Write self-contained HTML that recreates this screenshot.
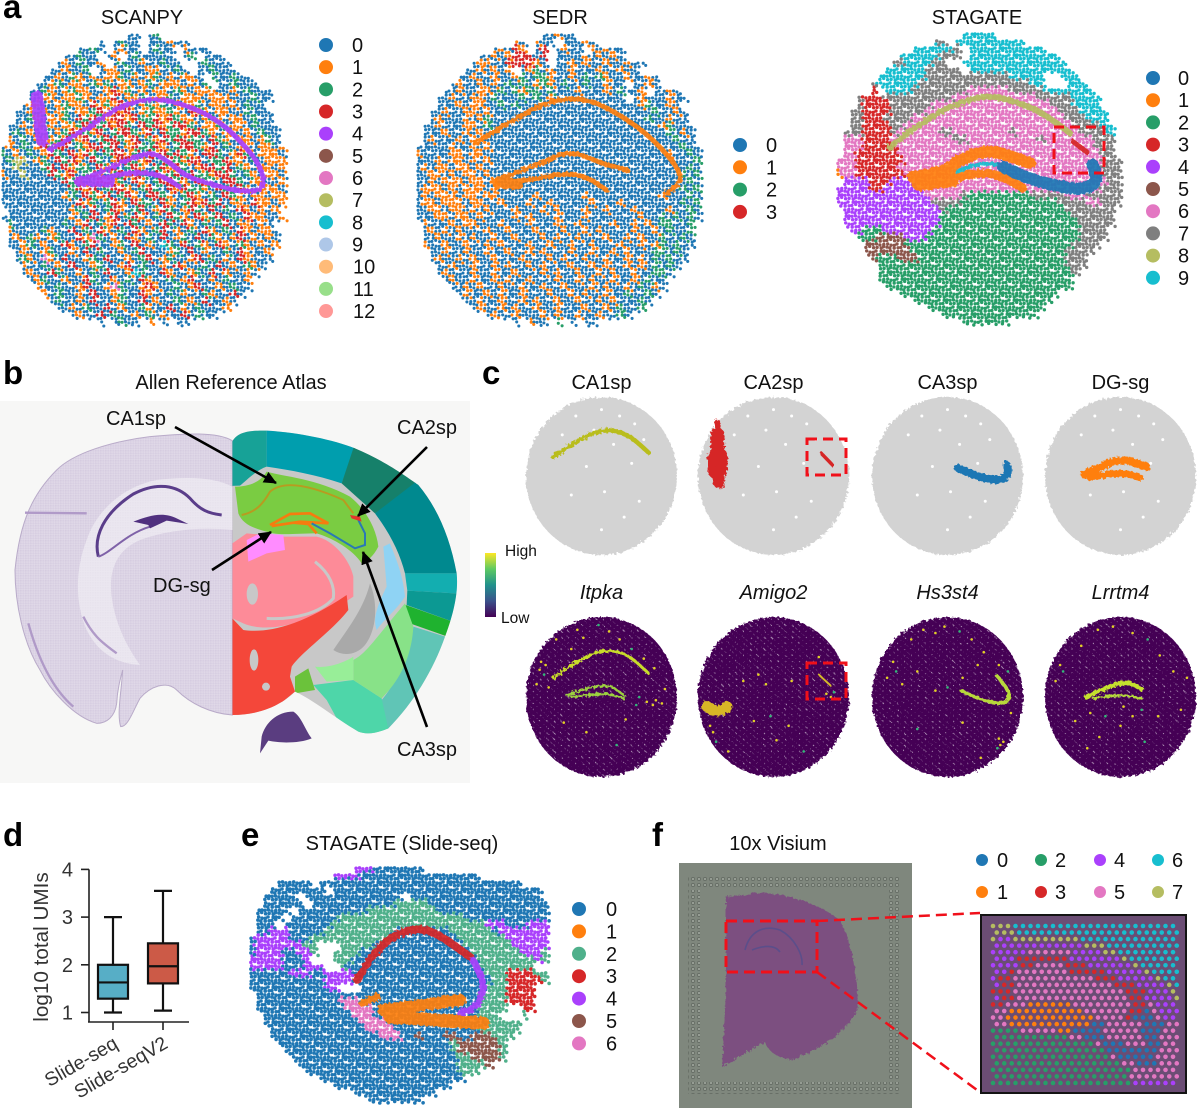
<!DOCTYPE html>
<html lang="en">
<head>
<meta charset="utf-8">
<title>Spatial clustering comparison figure</title>
<style>
html,body{margin:0;padding:0;background:#fff}
svg{display:block}
text{font-family:"Liberation Sans",Arial,sans-serif;fill:#111}
.letter{font-weight:700;font-size:33px;fill:#000}
.title{font-size:19.5px;text-anchor:middle}
.ttl{font-size:20px}
</style>
</head>
<body>
<svg id="fig" width="1200" height="1108" viewBox="0 0 1200 1108" xmlns="http://www.w3.org/2000/svg">
<defs>
<linearGradient id="viridis" x1="0" y1="0" x2="0" y2="1">
<stop offset="0" stop-color="#fde725"/><stop offset=".25" stop-color="#5ec962"/><stop offset=".5" stop-color="#21918c"/><stop offset=".75" stop-color="#3b528b"/><stop offset="1" stop-color="#440154"/>
</linearGradient>
<pattern id="flecks" width="7" height="6" patternUnits="userSpaceOnUse">
<rect width="7" height="6" fill="#440154"/>
<circle cx="1.5" cy="1.5" r=".7" fill="#fff" opacity=".5"/>
<circle cx="5" cy="4.4" r=".45" fill="#fff" opacity=".35"/>
</pattern>
<pattern id="nissl" width="5" height="5" patternUnits="userSpaceOnUse">
<rect width="5" height="5" fill="#dcd4e5"/>
<circle cx="1" cy="1" r=".8" fill="#a792c0" opacity=".6"/>
<circle cx="3.6" cy="3.2" r=".8" fill="#f2eff5"/>
</pattern>
<pattern id="nisslLight" width="5" height="5" patternUnits="userSpaceOnUse">
<rect width="5" height="5" fill="#ebe7f0"/>
<circle cx="1.4" cy="2" r=".6" fill="#b5a6c9" opacity=".7"/>
</pattern>
<pattern id="fiducial" width="6" height="6" patternUnits="userSpaceOnUse">
<rect width="6" height="6" fill="#7f877d"/>
<circle cx="3" cy="3" r="1.6" fill="#969d94" stroke="#5f665e" stroke-width=".7"/>
</pattern>
<marker id="arrowhead" markerUnits="userSpaceOnUse" markerWidth="14" markerHeight="12" refX="12" refY="6" orient="auto">
<polygon points="0,0 13,6 0,12" fill="#000"/>
</marker>
<filter id="rough" filterUnits="userSpaceOnUse" x="0" y="0" width="1200" height="1108">
<feTurbulence type="fractalNoise" baseFrequency=".35" numOctaves="2" seed="4" result="n"/>
<feDisplacementMap in="SourceGraphic" in2="n" scale="5"/>
</filter>
<clipPath id="hemi"><path d="M697,215 C710,190 740,180 800,182 C900,188 1000,210 1065,235 C1150,270 1220,320 1255,345 C1310,410 1350,500 1370,610 C1375,660 1365,720 1335,800 C1300,900 1240,1000 1165,1075 C1130,1090 1100,1095 1075,1085 C1000,1040 940,990 885,965 C860,990 800,1035 697,1035 Z"/></clipPath>
</defs>

<text class="letter" x="3" y="18">a</text>
<text class="letter" x="3" y="384">b</text>
<text class="letter" x="482" y="384">c</text>
<text class="letter" x="3" y="846">d</text>
<text class="letter" x="241" y="846">e</text>
<text class="letter" x="652" y="846">f</text>

<text class="title" x="142" y="24" style="font-size:20px">SCANPY</text>
<text class="title" x="560" y="24" style="font-size:20px">SEDR</text>
<text class="title" x="977" y="24" style="font-size:20px">STAGATE</text>
<text class="title" x="231" y="389" style="font-size:20px">Allen Reference Atlas</text>
<text class="title" x="402" y="850" style="font-size:20px">STAGATE (Slide-seq)</text>
<text class="title" x="778" y="850" style="font-size:20px">10x Visium</text>

<!-- panel b: atlas -->
<g>
<rect x="0" y="401" width="470" height="382" fill="#f7f7f6"/>
<g transform="translate(0,370) scale(.33333)">
<path fill="url(#nissl)" stroke="#b9abc9" stroke-width="3" d="M697,212 C650,185 560,190 450,200 C330,215 220,250 170,300 C100,370 60,450 45,600 C45,700 70,820 120,900 C150,960 220,1040 290,1060 C320,1060 345,1040 350,1000 C352,960 360,930 368,900 C365,960 350,1030 362,1070 C385,1070 400,1020 420,985 C450,950 500,930 530,960 C570,1000 630,1030 697,1035 Z"/>
<path fill="url(#nisslLight)" d="M697,350 C640,320 560,320 470,330 C370,350 290,420 260,510 C225,600 225,700 260,780 C290,840 340,880 420,885 C380,830 345,760 335,680 C325,600 350,540 420,510 C500,480 600,470 697,480 Z"/>
<path fill="none" stroke="#5a3d8a" stroke-width="9" d="M295,560 C280,500 310,430 400,372 C470,335 530,345 570,385 C600,420 625,430 665,435"/>
<path fill="none" stroke="#7f62a8" stroke-width="6" d="M295,560 C330,550 380,490 450,470"/>
<path fill="#50307f" d="M400,455 C450,435 490,425 530,445 L565,462 L500,452 L450,475 L445,465 Z"/>
<path fill="none" stroke="#b09ac8" stroke-width="7" d="M75,428 L260,430 M250,740 C280,800 310,820 350,850 M85,760 C110,850 150,950 220,1010"/>
<path fill="#5a3d80" d="M785,1100 C795,1060 830,1025 880,1025 C905,1040 915,1080 935,1105 C900,1120 840,1120 805,1112 L780,1150 Z"/>

<g clip-path="url(#hemi)">
<rect x="690" y="170" width="700" height="930" fill="#c8c8c8"/>
<path fill="#17a297" d="M690,170 L800,170 L800,290 C770,300 740,330 720,347 L690,348 Z"/>
<path fill="#009eae" d="M800,170 L1075,210 L1025,340 C950,315 870,300 800,290 Z"/>
<path fill="#16806a" d="M1065,220 L1280,330 L1125,430 L1025,340 Z"/>
<path fill="#00898f" d="M1255,330 L1400,400 L1400,610 L1215,610 C1200,550 1170,490 1125,430 Z"/>
<path fill="#13aeb0" d="M1215,610 L1400,610 L1400,672 L1222,662 Z"/>
<path fill="#0c9993" d="M1222,662 L1400,672 L1400,770 L1220,705 Z"/>
<path fill="#1fb22f" d="M1217,705 L1400,770 L1400,820 L1215,755 Z"/>
<path fill="#60c5b6" d="M1240,770 L1400,820 L1400,1100 L1165,1090 L1145,990 C1180,950 1230,860 1240,770 Z"/>
<path fill="#4ed6a9" d="M1145,985 L1170,1100 L1040,1100 L980,990 L940,945 L1060,930 Z"/>
<path fill="#88e288" d="M1060,870 C1100,850 1130,800 1215,700 L1240,770 C1235,860 1200,930 1145,985 L1060,930 Z"/>
<path fill="#98ee98" d="M945,890 C980,895 1030,880 1060,860 L1060,930 L980,935 Z"/>
<path fill="#6bc23b" d="M885,920 L925,895 L945,960 L885,970 Z"/>
<path fill="#a9a9a9" d="M1110,640 C1135,700 1130,780 1095,825 C1070,855 1030,860 1000,840 C1040,780 1090,720 1110,640 Z"/>
<path fill="#8fd3f4" d="M1150,530 L1170,520 C1190,570 1210,620 1215,680 C1190,720 1150,750 1130,780 C1120,750 1125,720 1160,650 Z"/>
<path fill="#7acc42" d="M705,350 C740,350 780,340 800,305 C850,320 950,325 1050,380 C1100,420 1130,480 1135,530 C1120,560 1100,575 1085,580 C1060,540 1000,505 950,490 C900,490 850,495 820,490 C780,480 730,470 715,430 Z"/>
<path fill="#fd8b98" d="M697,520 L740,490 L850,500 L950,500 C1000,510 1050,570 1060,620 L1060,680 C1030,700 1000,720 960,730 C900,760 800,790 730,760 L697,745 Z"/>
<path fill="#ff8cff" d="M740,510 L780,490 L850,495 L855,540 L800,550 L745,575 Z"/>
<path fill="#f4473a" d="M697,745 L730,780 C800,790 900,770 1040,675 L1045,720 C1000,780 900,850 875,890 L870,920 L885,965 L830,1010 L760,1040 L697,1040 Z"/>
<ellipse cx="757" cy="672" rx="17" ry="32" fill="#c8c8c8"/>
<ellipse cx="762" cy="870" rx="13" ry="32" fill="#c8c8c8"/>
<circle cx="798" cy="950" r="12" fill="#c8c8c8"/>
<path fill="none" stroke="#c8c8c8" stroke-width="9" d="M945,575 C990,610 1005,650 1000,685 C960,730 880,750 800,745"/>
<path fill="none" stroke="#b89b20" stroke-width="6" d="M725,435 C770,425 790,400 810,365 C850,330 930,345 1030,390 L1060,430"/>
<path fill="none" stroke="#f57c0f" stroke-width="8" d="M810,465 L870,432 L930,430 L985,460 L900,455 L815,468 M880,458 L925,462 L950,490"/>
<path fill="none" stroke="#2a78b5" stroke-width="6" d="M935,460 L990,490 L1065,535 L1095,525 L1095,490 L1075,450"/>
<path fill="#e5342c" d="M1050,435 L1080,440 L1085,455 L1055,445 Z"/>
</g>
</g>
<line x1="175" y1="427" x2="276" y2="483" stroke="#000" stroke-width="2.6" marker-end="url(#arrowhead)"/>
<line x1="427" y1="447" x2="358" y2="516" stroke="#000" stroke-width="2.6" marker-end="url(#arrowhead)"/>
<line x1="212" y1="570" x2="271" y2="532" stroke="#000" stroke-width="2.6" marker-end="url(#arrowhead)"/>
<line x1="427" y1="727" x2="363" y2="552" stroke="#000" stroke-width="2.6" marker-end="url(#arrowhead)"/>
<text class="ttl" x="106" y="425">CA1sp</text>
<text class="ttl" x="397" y="434">CA2sp</text>
<text class="ttl" x="153" y="592">DG-sg</text>
<text class="ttl" x="397" y="756">CA3sp</text>
</g>

<!-- colorbar -->
<rect x="485" y="553" width="11" height="64" fill="url(#viridis)"/>
<text x="505" y="556" style="font-size:15.5px">High</text>
<text x="501" y="623" style="font-size:15.5px">Low</text>

<!-- panel f photo -->
<g>
<rect x="679" y="863" width="233" height="245" fill="#7f877d"/>
<rect x="688" y="875" width="212" height="12" fill="url(#fiducial)"/>
<rect x="688" y="1082" width="212" height="12" fill="url(#fiducial)"/>
<rect x="688" y="890" width="12" height="190" fill="url(#fiducial)"/>
<rect x="888" y="890" width="12" height="190" fill="url(#fiducial)"/>
<path fill="#7c4f80" filter="url(#rough)" d="M726,897 L758,893 C790,893 820,905 840,920 C850,940 858,970 858,1007 C852,1025 830,1045 793,1060 C775,1058 768,1050 765,1042 C750,1050 735,1060 722,1067 C724,1030 726,1000 726,977 Z"/>
<path fill="none" stroke="#5b4e8a" stroke-width="1.6" d="M745,950 C750,930 765,925 780,930 C795,938 803,955 802,965 M752,950 C765,945 775,945 780,952"/>
<rect x="726" y="921" width="91" height="51" fill="none" stroke="#f0101a" stroke-width="3" stroke-dasharray="11 6"/>
<line x1="817" y1="921" x2="980" y2="913" stroke="#f0101a" stroke-width="2.5" stroke-dasharray="11 6"/>
<line x1="817" y1="972" x2="977" y2="1090" stroke="#f0101a" stroke-width="2.5" stroke-dasharray="11 6"/>
</g>
<rect x="981" y="915" width="205" height="178" fill="#6b4d74" stroke="#141414" stroke-width="2"/>

<g id="layer"></g>
</svg>

<script>
// ---------- cluster colours ----------
const clusterColors = {'0':'#1f77b4','1':'#ff7f0e','2':'#279e68','3':'#d62728','4':'#aa40fc','5':'#8c564b','6':'#e377c2','7':'#b5bd61','8':'#17becf','9':'#aec7e8','a':'#ffbb78','b':'#98df8a','c':'#ff9896'};
const stagateColors = Object.assign({}, clusterColors, {'7':'#7f7f7f','8':'#b5bd61','9':'#17becf'});
const slideColors = Object.assign({}, clusterColors, {'2':'#4fb08b'});

// ---------- legends ----------
const scanpyLegend = ['0','1','2','3','4','5','6','7','8','9','10','11','12'];
const scanpyLegendKeys = ['0','1','2','3','4','5','6','7','8','9','a','b','c'];
const sedrLegend = ['0','1','2','3'];
const stagateLegend = ['0','1','2','3','4','5','6','7','8','9'];
const slideLegend = ['0','1','2','3','4','5','6'];
const visiumLegend = ['0','1','2','3','4','5','6','7'];

// ---------- spot labels per row: "startColumn|labels" (NxM = M spots of label N, . = empty) ----------
const scanpyRows = [
"18|00.02","14|0.0200.000100","11|0020.0100.0200.1000","9|00200.01.0200000.02.000",
"8|0102001.0200100200..02000","7|001002.0110200110020.002000","6|00102101011201012010110.200200",
"5|0012011021201101201110102.002000","4|00210121100131201011021011100102000",
"3|.00110112101130112011201110111000200","3|01100121103121310121201112011010200",
"2|0012101201123131301211210311011002000","2|0021011203232133132231321101210110200",
"1|001012101123323132032312332011201102000","1|020102012332130233213032213321011010200",
"1|102011123213023321302132332203210110120","0|01020132330213323013223102332130201101101",
"0|20102013203132023312031323210332013201110","0|02770120323103201332130232133022311020111",
"0|00700023031220313023102313201332302101101","0|10070003213023102313203123032213320210110",
"0|00000000032102331203102332103220332011001","0|00000000002313023310232031322103203101110",
"0|00000000012032130231033210231020321011011","0|00000000000312023103220310231323011031101",
"0|.000000000120302310230132013203020310101","0|00000000001023013023102032103123020311001",
"1|20000000201302130320103203102023011010","1|100002100302031020310230102031020310110",
"1|010210120031620103102030120302101301010","1|001201003102300120301082030210310210101",
"2|0100120010302001023000120301002031001","2|0210610300120300102301200130201031000",
"3|10020103001200130200103100203010210","3|0100320010203001820031001203010010",
"4|01200100320010203100201300102001","5|1002001300162001310020130010200",
"6|10200103001200310020100210030","7|020010300120030100201030010",
"8|0010200301002100301020001","10|010030200102010030200","14|0.0200.1.0.00"];

const sedrRows = [
"18|00100","14|10.100.00010","11|01031.03.0100.10100","9|0010133303.0000101010",
"8|01100333310.0010100100100","7|0010101.01201001000100100","6|00100100120221001020210010010",
"5|0100101020201210200200100.0010","4|00100110202122020001000102001.0010",
"3|001001102000202010000000000.01000100","3|00010110020200000000000000000120010",
"2|0010011010000000000000000000000020010","2|0100010120000000000000000000000200100",
"1|001000110200000000000000000000000012000","1|000100101000000000000000000000000002010",
"1|010001011000000000000000000000000000200","0|00000100101000000000000000000000000000200",
"0|10000110110000000000000000000000000010020","0|00010110101000000000000000000000000000002",
"0|01011011010000000000000000000000000000020","0|00110101101000000000000000000000000000202",
"0|00101110110100000000000000000000000000020","0|01110101110100000000000000000000000000202",
"0|01011101101100000100000010000000000100020","0|01101110110010001001000001000100000000202",
"0|00110110101000100010100010010001000010020","0|00011011010000101000100010000000100202020",
"1|100010110001000100010010000100101022002","1|010101000100100010001001010000100102002",
"1|001001010010010001010010001001010020020","1|100100100101000100100100100010010120200",
"2|0010010010010010100010010010100022020","2|0100101001000100010100100100101020200",
"3|00100100101001010001001010010102020","3|0100010010010001010010010100100220",
"4|01001001010010001001010010010200","5|0010100100100100100010100102010",
"6|01001010010001001010010020020","7|001001001010010010010100020",
"8|0100101001001000100102002","10|010010001010010010020","14|0.100.2.0.00"];

const stagateRows = [
"18|9x5","14|7x2 .x1 9x10","11|9x6 7x1 .x1 9x11","9|9x6 7x3 .x1 9x13","8|7x2 9x4 7x2 .x2 9x15",
"7|9x6 7x5 .x1 9x15","6|9x7 7x12 9x5 .x2 9x3","5|7x1 9x6 7x16 9x2 .x3 9x3",
"4|.x1 3x1 .x1 9x4 7x8 6x6 7x5 9x7","3|7x1 3x3 7x10 6x12 7x5 9x4","3|7x1 3x4 7x6 6x17 7x3 9x4",
"2|7x2 3x4 7x5 6x19 7x3 9x4","2|7x2 3x3 7x4 6x22 7x3 9x3","1|.x1 7x2 3x4 7x2 6x24 7x4 9x2",
"1|7x3 3x4 7x1 6x6 7x2 6x8 7x1 6x9 7x4 9x1","1|6x3 3x4 6x9 7x2 6x10 7x1 6x7 7x3","1|6x3 3x5 6x28 7x3",
"1|6x2 3x6 6x29 7x2","0|6x3 3x7 6x28 7x3","0|6x3 3x6 6x29 7x3","0|1x1 6x2 3x7 6x28 7x3",
"0|.x1 4x4 3x3 4x3 6x28 7x2","0|4x5 3x2 4x5 6x26 7x3","0|4x13 6x5 7x1 2x9 7x5 6x3 7x5",
"0|4x14 7x4 2x14 7x4 6x2 7x3","1|4x14 7x1 2x17 7x7","1|4x14 2x19 7x6","1|4x14 2x20 7x5",
"2|4x2 2x3 4x7 2x21 7x4","3|2x3 5x4 4x3 2x22 7x4","4|5x6 2x24 7x4","4|5x7 2x22 7x4",
"5|5x1 2x3 5x3 2x21 7x3","6|2x27 7x3","6|2x28 7x1","6|2x28","7|2x27","9|2x23","11|2x20","13|2x17","15|2x14","18|2x7"];

const slideRows = [
"15|4x3 0x7","12|4x4 0x17","4|0x5 .x1 0x29","3|0x8 .x1 0x30","2|0x5 .x1 0x14 .x1 0x19",
"2|0x6 .x1 0x12 2x5 0x17","1|0x5 .x1 0x10 2x10 0x16","1|0x4 .x1 0x7 2x18 0x12","1|0x3 .x1 0x7 2x22 4x3 0x3 4x3",
"1|0x2 4x3 0x5 2x10 0x8 2x6 0x1 4x7","0|0x1 4x5 0x3 2x11 0x10 2x7 4x6","0|0x1 4x7 2x2 .x3 2x5 0x13 2x7 4x5",
"0|0x1 4x4 0x2 4x2 2x1 .x2 2x4 0x16 2x7 4x3 2x1","0|4x5 0x3 4x1 .x3 2x3 0x18 2x8 4x1 2x1",
"0|4x5 0x3 4x3 .x2 2x1 0x19 2x8","0|0x6 4x3 0x2 4x4 0x19 2x3 3x4 2x2","0|0x11 4x4 0x20 2x2 3x5 2x1",
"0|0x11 4x2 .x3 0x18 2x3 3x4","1|0x32 2x4 3x4","1|0x12 6x3 0x17 2x4 3x4","1|0x13 6x4 0x15 2x4 .x2 3x2",
"2|0x13 6x3 0x15 2x3 .x3 2x1","2|0x14 6x4 0x14 2x5","3|0x14 6x4 0x12 2x6",
"3|0x16 6x3 0x2 5x1 0x3 5x2 0x2 5x3 2x3","4|0x25 2x1 5x6 2x1","5|0x24 2x1 5x6 2x1","6|0x24 2x2 5x4 2x1",
"7|0x23 2x4 5x1","8|0x22 2x3","10|0x21","12|0x17","15|0x12","17|0x8"];

// dense anatomical bands: spatial coordinates in spot units, [column,row]
const scanpyBands = [
 {label:'4',w:5,pts:[[6.4,16.1],[11.1,13.6],[16,10],[20.7,8.7],[25,9.4],[29.7,11.4],[33.6,14.7],[36.9,19],[36.9,21.9],[33.6,22.1],[29.7,21.1],[26,20],[23.1,17.6],[20.7,16.4],[17.4,17.6],[13.6,19.4],[10.7,20.4]]},
 {label:'4',w:5,pts:[[12.1,20.9],[16,19.4],[21.7,19.4],[25,21.4]]},
 {label:'4',w:13,pts:[[4.6,8.6],[5.3,14.7]]},
 {label:'4',w:11,pts:[[10.7,20.6],[15,20.6]]}];
const sedrBands = [
 {label:'1',w:5,pts:[[8.1,15.1],[16.1,10],[21,8.6],[25.7,9.4],[31.9,13.3],[36.1,17.6],[37.6,20.4],[35.3,22.3]]},
 {label:'1',w:5,pts:[[11,20.4],[16.1,18.6],[21.4,16.1],[25.7,18],[29.6,19]]},
 {label:'1',w:5,pts:[[11.4,20.9],[16.1,20.4],[20.4,19.4],[23.9,20],[26.7,21.9]]},
 {label:'1',w:11,pts:[[11,20.8],[14,21]]}];
const stagateBands = [
 {label:'8',w:6,pts:[[7.1,15.9],[11.4,12.4],[16.7,9.6],[21,8.4],[25.3,9.4],[29,11],[32.9,13.9]]},
 {label:'1',w:12,pts:[[10.4,20.1],[14.7,19.6],[17.6,17.3],[21.4,16.3],[24.7,17.3],[27.1,18.1]]},
 {label:'1',w:16,pts:[[11.4,21],[16,20.4]]},
 {label:'1',w:9,pts:[[16.7,20.1],[20.4,19.4],[23.3,20.1],[26.1,21.7]]},
 {label:'9',w:4,pts:[[16.7,19.4],[19.6,18.1],[22.9,18.4]]},
 {label:'0',w:12,pts:[[23.3,18.7],[26.7,20.3],[30.4,21.3],[34.7,22],[36.9,20.9],[36.1,18.4]]},
 {label:'3',w:5,pts:[[33.3,15.1],[35.3,16.6]]}];
const slideBands = [
 {label:'3',w:8,pts:[[14.9,15.7],[17.1,11.9],[20.6,9],[23.9,8.3],[26.7,9.3],[29.6,11.4],[31,12.4]]},
 {label:'4',w:7,pts:[[31.4,12.9],[33.4,16.1],[32,19.6],[29.6,20.4]]},
 {label:'1',w:12,pts:[[18.6,20],[29.6,18.6]]},
 {label:'1',w:13,pts:[[19.6,21],[32.9,21.9]]},
 {label:'1',w:8,pts:[[15.7,19],[17.7,18.1]]}];

// ---------- panel c: tissue units 0-100 ----------
const domainTitles = ['CA1sp','CA2sp','CA3sp','DG-sg'];
const geneTitles = ['Itpka','Amigo2','Hs3st4','Lrrtm4'];
const tissueHoles = [[50,8],[72,17],[33,12],[62,12],[45,21],[78,27],[24,24],[58,30],[40,44],[70,42],[52,60],[30,62],[75,66],[50,84],[65,76]];
const domainBands = [
 [{color:'#b9bd1e',w:4.5,pts:[[18,38],[33,28],[51,20],[67,23],[81,35]]}],
 [{color:'#d62728',w:6,pts:[[13,16],[13,22]]},{color:'#d62728',w:14,pts:[[13,24],[13,36]]},{color:'#d62728',w:20,pts:[[13,38],[13,46]]},{color:'#d62728',w:12,pts:[[13,48],[14,54]]},{color:'#d62728',w:3.5,pts:[[82,36],[89,43]]}],
 [{color:'#1f77b4',w:8,pts:[[57,45],[71,51],[86,53],[91,48],[89,43]]}],
 [{color:'#ff7f0e',w:8,pts:[[26,49],[39,43],[52,39],[67,44]]},{color:'#ff7f0e',w:7,pts:[[30,51],[48,47],[63,51]]}]];
const geneBands = [
 [{color:'#c9dd2c',w:3,pts:[[18,38],[33,28],[51,20],[67,23],[81,35]]},{color:'#9ccf3f',w:2.5,pts:[[27,49],[52,40],[65,49]]},{color:'#9ccf3f',w:2.5,pts:[[30,50],[52,47],[65,51]]}],
 [{color:'#d4b92a',w:2,pts:[[80,36],[88,43]]},{color:'#d8b628',w:11,pts:[[6,56],[12,60],[19,56]]}],
 [{color:'#b8d83a',w:3.5,pts:[[59,46],[74,53],[89,54],[92,48],[83,37]]}],
 [{color:'#c5e02e',w:4.5,pts:[[27,50],[38,45],[53,40],[64,45]]},{color:'#b6d93b',w:2.5,pts:[[32,51],[50,48],[64,51]]}]];
const geneSpots = [
 [[10,28],[9,33],[13,30],[12,36],[7,42],[20,14],[34,8],[48,5],[55,9],[62,14],[38,13],[70,20],[78,26],[85,32],[30,20],[73,55],[80,53],[86,52],[90,54],[75,50],[84,55],[15,44],[40,72],[60,80],[25,66],[66,64],[92,45]],
 [[80,25],[62,40],[45,42],[48,62],[60,68],[8,68],[10,72],[12,78],[20,84],[40,36],[85,48],[90,47],[88,50],[30,40],[52,77],[70,84],[37,65]],
 [[34,8],[42,10],[48,6],[58,9],[66,14],[74,22],[84,30],[90,34],[26,14],[14,28],[10,38],[16,34],[20,42],[30,34],[42,46],[50,44],[84,76],[85,80],[87,78],[83,82],[92,60],[60,38],[70,30],[30,70],[60,66],[72,88]],
 [[35,8],[45,6],[58,10],[68,14],[76,24],[85,34],[10,30],[12,34],[7,40],[24,18],[30,60],[40,62],[52,56],[58,62],[50,68],[64,58],[75,62],[36,75],[28,82],[66,78],[90,58],[94,38],[20,65]]];

// ---------- panel d: box plot ----------
const boxCategories = ['Slide-seq','Slide-seqV2'];
const boxWhiskerLow = [1.0,1.04];
const boxQ1 = [1.29,1.61];
const boxMedian = [1.63,1.97];
const boxQ3 = [2.0,2.45];
const boxWhiskerHigh = [3.0,3.55];
const boxFills = ['#57aec6','#cc5a47'];
const boxTicks = [1,2,3,4];

// ---------- panel f: Visium inset labels ----------
const visiumRows = [
"7776666666666666666666666","7776666666666666666666666","7447777777776666666666666","4444444444447776666666666",
"4444455555544447766666666","4443333333444444476666666","4444335555333444444766666","4435555555333334444476666",
"4335555555555533344444766","4335555555555555333444476","3335555555555555553334447","4335555555555555553344447",
"3355511111155555555335444","5511111111115555553305444","5511111111111155553000544","5511111111111005555500055",
"2222555551100005555500055","2222222222550005555500555","2222222222222250005550055","2222222222222220000000555",
"2222222222222222500000555","2222222222222222255000555","2222222222222222222555555","2222222222222222225555555",
"2222222222222222222444444"];

const NS = 'http://www.w3.org/2000/svg';
const layer = document.getElementById('layer');
function mk(tag, attrs, parent){
  const el = document.createElementNS(NS, tag);
  for (const k in attrs) el.setAttribute(k, attrs[k]);
  (parent || layer).appendChild(el);
  return el;
}
function parseRow(str){
  const parts = str.split('|');
  const start = parseInt(parts[0], 10);
  const body = parts[1];
  const out = [];
  if (body.indexOf('x') >= 0) {
    body.split(' ').forEach(function(tok){
      const t = tok.split('x');
      for (let i = 0; i < parseInt(t[1], 10); i++) out.push(t[0]);
    });
  } else {
    for (const ch of body) out.push(ch);
  }
  return {start: start, labels: out};
}
// each read cell is drawn as four small spots, staggered so no lattice shows
const subLayouts = [
 [[-.27,-.24],[.22,-.3],[-.2,.24],[.3,.2]],
 [[-.3,-.16],[.26,-.22],[-.12,.3],[.2,.12]],
 [[-.18,-.3],[.3,-.12],[-.3,.16],[.12,.28]],
 [[-.24,-.1],[.14,-.28],[-.26,.3],[.3,.26]],
 [[-.12,-.26],[.28,-.28],[-.3,.2],[.24,.06]]];
function smoothPath(points){
  let d = 'M' + points[0][0].toFixed(1) + ',' + points[0][1].toFixed(1);
  if (points.length === 2) return d + ' L' + points[1][0].toFixed(1) + ',' + points[1][1].toFixed(1);
  for (let i = 1; i < points.length - 1; i++) {
    const mx = (points[i][0] + points[i + 1][0]) / 2, my = (points[i][1] + points[i + 1][1]) / 2;
    d += ' Q' + points[i][0].toFixed(1) + ',' + points[i][1].toFixed(1) + ' ' + mx.toFixed(1) + ',' + my.toFixed(1);
  }
  const last = points[points.length - 1];
  return d + ' L' + last[0].toFixed(1) + ',' + last[1].toFixed(1);
}
function spatialPanel(name, rows, bands, colors, x0, y0, pitch, radius){
  const g = mk('g', {});
  
  
  const xScale = function(c){ return x0 + pitch * c; };
  const yScale = function(r){ return y0 + pitch * r; };
  const parsed = rows.map(parseRow);
  const labelAt = function(r, c){
    if (r < 0 || r >= parsed.length) return '.';
    const v = parsed[r].labels[c - parsed[r].start];
    return v === undefined ? '.' : v;
  };
  parsed.forEach(function(row, r){
    row.labels.forEach(function(lab, i){
      if (lab === '.') return;
      const c = row.start + i;
      const layout = subLayouts[(r * 3 + c) % subLayouts.length];
      const subLabels = [lab, labelAt(r, c + 1), labelAt(r + 1, c), lab];
      layout.forEach(function(off, k){
        const sub = subLabels[k];
        if (sub === '.') return;
        const dot = mk('circle', {cx: xScale(c + off[0]).toFixed(1), cy: yScale(r + off[1]).toFixed(1), r: radius, fill: colors[sub]}, g);
        
        
      });
    });
  });
  const bandG = mk('g', {filter: 'url(#rough)', opacity: '.92'}, g);
  
  
  bands.forEach(function(b){
    const d = smoothPath(b.pts.map(function(p){ return [xScale(p[0]), yScale(p[1])]; }));
    const path = mk('path', {d: d, fill: 'none', stroke: colors[b.label], 'stroke-width': b.w, 'stroke-linecap': 'round', 'stroke-linejoin': 'round'}, bandG);
    
    
  });
}
function legend(name, labels, keys, colors, dotX, textX, startY, step){
  labels.forEach(function(lab, i){
    const y = startY + i * step;
    const c = mk('circle', {cx: dotX, cy: y, r: 7, fill: colors[keys[i]]});
    
    
    const t = mk('text', {x: textX + (lab.length > 1 ? 1 : 0), y: y + 7, style: 'font-size:20px'});
    t.textContent = lab;
    
    
  });
}
function redBox(name, x, y, w, h){
  const b = mk('rect', {x: x, y: y, width: w, height: h, fill: 'none', stroke: '#f0101a', 'stroke-width': 3, 'stroke-dasharray': '10 6'});
  
  
}

// panel a
spatialPanel('scanpy', scanpyRows, scanpyBands, clusterColors, 5, 37, 7, 1.55);
spatialPanel('sedr', sedrRows, sedrBands, clusterColors, 420, 37, 7, 1.55);
spatialPanel('stagate', stagateRows, stagateBands, stagateColors, 840, 36, 7, 1.7);
legend('scanpy-legend', scanpyLegend, scanpyLegendKeys, clusterColors, 326, 352, 45, 22.17);
legend('sedr-legend', sedrLegend, sedrLegend, clusterColors, 740, 766, 145, 22.3);
legend('stagate-legend', stagateLegend, stagateLegend, stagateColors, 1153, 1178, 78, 22.2);
redBox('stagate-roi-box', 1054, 127, 50, 46);

// panel c
const panelLefts = [526, 698, 872, 1045];
const tissueW = 151, domainTop = 397, domainH = 158, geneTop = 617, geneH = 160;
panelLefts.forEach(function(left, i){
  const ux = function(u){ return left + u * tissueW / 100; };
  const vy = function(v, top, h){ return top + v * h / 100; };
  function bandPath(b, top, h, parent){
    const d = smoothPath(b.pts.map(function(p){ return [ux(p[0]), vy(p[1], top, h)]; }));
    const path = mk('path', {d: d, fill: 'none', stroke: b.color, 'stroke-width': b.w, 'stroke-linecap': 'round', 'stroke-linejoin': 'round', filter: 'url(#rough)'}, parent);
    
    
  }
  const t1 = mk('text', {x: left + tissueW / 2, y: 389, style: 'font-size:20px;text-anchor:middle'});
  t1.textContent = domainTitles[i];
  
  
  const t2 = mk('text', {x: left + tissueW / 2, y: 599, style: 'font-size:20px;text-anchor:middle;font-style:italic'});
  t2.textContent = geneTitles[i];
  
  

  const tissue = mk('ellipse', {cx: ux(50), cy: vy(50, domainTop, domainH), rx: tissueW / 2, ry: domainH / 2, fill: '#d3d3d3', filter: 'url(#rough)'});
  
  
  tissueHoles.forEach(function(p){
    const h = mk('circle', {cx: ux(p[0]), cy: vy(p[1], domainTop, domainH), r: 1.5, fill: '#fff'});
    
    
  });
  domainBands[i].forEach(function(b){ bandPath(b, domainTop, domainH); });

  const dark = mk('ellipse', {cx: ux(50), cy: vy(50, geneTop, geneH), rx: tissueW / 2, ry: geneH / 2, fill: 'url(#flecks)', filter: 'url(#rough)'});
  
  
  geneBands[i].forEach(function(b){ bandPath(b, geneTop, geneH); });
  geneSpots[i].forEach(function(p, k){
    const s = mk('circle', {cx: ux(p[0]), cy: vy(p[1], geneTop, geneH), r: 1.3, fill: k % 4 === 3 ? '#35b779' : '#e3d028'});
    
    
  });
});
redBox('ca2sp-roi-box', 807, 439, 39, 36);
redBox('amigo2-roi-box', 807, 663, 39, 36);

// panel d
const yUmi = function(v){ return 1012.5 - (v - 1) * 47.7; };
const xCat = function(i){ return 113 + i * 50; };
const boxG = mk('g', {});


const yAxis = mk('line', {x1: 89, y1: yUmi(4), x2: 89, y2: 1022, stroke: '#222', 'stroke-width': 1.6}, boxG);


const xAxis = mk('line', {x1: 88, y1: 1022, x2: 189, y2: 1022, stroke: '#222', 'stroke-width': 1.6}, boxG);


boxTicks.forEach(function(v){
  const tick = mk('line', {x1: 81, y1: yUmi(v), x2: 89, y2: yUmi(v), stroke: '#222', 'stroke-width': 1.6}, boxG);
  
  
  const lab = mk('text', {x: 73, y: yUmi(v) + 7, style: 'font-size:20px;text-anchor:end;fill:#333'}, boxG);
  lab.textContent = String(v);
  
  
});
const yTitle = mk('text', {transform: 'translate(48,947) rotate(-90)', style: 'font-size:20.7px;text-anchor:middle;fill:#333'}, boxG);
yTitle.textContent = 'log10 total UMIs';


boxCategories.forEach(function(cat, i){
  const x = xCat(i), hw = 15, cap = 9;
  const xt = mk('line', {x1: x, y1: 1022, x2: x, y2: 1030, stroke: '#222', 'stroke-width': 1.6}, boxG);
  
  
  const whisk = mk('path', {d: 'M' + x + ',' + yUmi(boxWhiskerLow[i]) + ' V' + yUmi(boxQ1[i]) + ' M' + x + ',' + yUmi(boxQ3[i]) + ' V' + yUmi(boxWhiskerHigh[i]) + ' M' + (x - cap) + ',' + yUmi(boxWhiskerLow[i]) + ' h' + (2 * cap) + ' M' + (x - cap) + ',' + yUmi(boxWhiskerHigh[i]) + ' h' + (2 * cap), stroke: '#111', 'stroke-width': 2.2, fill: 'none'}, boxG);
  
  
  const box = mk('rect', {x: x - hw, y: yUmi(boxQ3[i]), width: 2 * hw, height: yUmi(boxQ1[i]) - yUmi(boxQ3[i]), fill: boxFills[i], stroke: '#111', 'stroke-width': 2.2}, boxG);
  
  
  const med = mk('line', {x1: x - hw, x2: x + hw, y1: yUmi(boxMedian[i]), y2: yUmi(boxMedian[i]), stroke: '#111', 'stroke-width': 2.2}, boxG);
  
  
  const lab = mk('text', {transform: 'translate(' + (x + 6) + ',1047) rotate(-30)', style: 'font-size:19.3px;text-anchor:end;fill:#333'}, boxG);
  lab.textContent = cat;
  
  
});

// panel e
spatialPanel('slideseq', slideRows, slideBands, slideColors, 253, 870, 7, 1.8);
legend('slideseq-legend', slideLegend, slideLegend, slideColors, 579, 606, 909, 22.4);

// panel f
function visiumColor(l){
  return {'0':'#1f77b4','1':'#ff7f0e','2':'#279e68','3':'#d62728','4':'#aa40fc','5':'#e377c2','6':'#17becf','7':'#b5bd61'}[l];
}
const visX = function(c, r){ return 993 + 7.5 * c + (r % 2 ? 3.75 : 0); };
const visY = function(r){ return 926 + 6.54 * r; };
visiumRows.forEach(function(row, r){
  for (let c = 0; c < row.length; c++) {
    const d = mk('circle', {cx: visX(c, r), cy: visY(r), r: 2.3, fill: visiumColor(row[c])});
    
    
  }
});
visiumLegend.forEach(function(lab, i){
  const col = Math.floor(i / 2), row = i % 2;
  const dx = [982, 1041, 1100, 1158][col], tx = [997, 1055, 1114, 1172][col];
  const y = 860 + row * 32;
  const c = mk('circle', {cx: dx, cy: y, r: 6, fill: visiumColor(lab)});
  
  
  const t = mk('text', {x: tx, y: y + 7, style: 'font-size:20px'});
  t.textContent = lab;
  
  
});
</script>
</body>
</html>
